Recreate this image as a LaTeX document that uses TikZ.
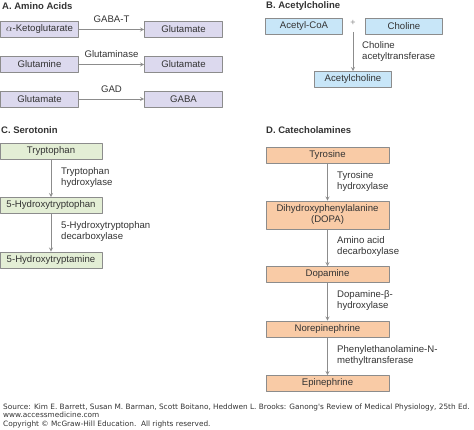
\documentclass[tikz,border=0pt]{standalone}
\usepackage{fontspec}
\setmainfont{Liberation Sans}
\newfontfamily\notefont{DejaVu Sans}
\definecolor{aafill}{HTML}{DCD9EE}
\definecolor{achfill}{HTML}{C8E6F8}
\definecolor{serfill}{HTML}{E3EED5}
\definecolor{catfill}{HTML}{F9CBA6}
\definecolor{edge}{HTML}{8C8C8C}
\definecolor{ink}{HTML}{333333}
\tikzset{
  box/.style={draw=edge,line width=0.8pt,text=ink,inner sep=0pt,minimum height=16pt},
  aabox/.style={box,fill=aafill,minimum width=78pt},
  achbox/.style={box,fill=achfill,minimum width=77pt},
  serbox/.style={box,fill=serfill,minimum width=102pt},
  catbox/.style={box,fill=catfill,minimum width=123pt},
  enz/.style={anchor=west,inner sep=0pt,align=left,text=ink},
  hdr/.style={anchor=west,inner sep=0pt,font=\fontsize{9.5}{11}\selectfont\bfseries,text=ink},
  step arrow/.style={->,draw=edge,line width=0.8pt}
}
\begin{document}
\begin{tikzpicture}[x=1pt,y=-1pt,>=stealth,line join=round,font=\fontsize{9.6}{11}\selectfont]
	\useasboundingbox (0,0) rectangle (474,430);
	% A. Amino acids
	\node[hdr] (ttlA) at (2,6) {A. Amino Acids};
	\node[aabox] (kg) at (39.5,29.5) {$\alpha$-Ketoglutarate};
	\node[aabox] (glua) at (183.5,29.5) {Glutamate};
	\node[aabox] (gln) at (39.5,64.5) {Glutamine};
	\node[aabox] (glub) at (183.5,64.5) {Glutamate};
	\node[aabox] (gluc) at (39.5,99) {Glutamate};
	\node[aabox] (gaba) at (183.5,99) {GABA};
	\draw[step arrow] (kg) -- (glua) node[midway,above=3pt,text=ink] {GABA-T};
	\draw[step arrow] (gln) -- (glub) node[midway,above=3pt,text=ink] {Glutaminase};
	\draw[step arrow] (gluc) -- (gaba) node[midway,above=3pt,text=ink] {GAD};
	% B. Acetylcholine
	\node[hdr] (ttlB) at (266,6) {B. Acetylcholine};
	\node[achbox] (acoa) at (304,26) {Acetyl-CoA};
	\node[achbox] (chol) at (404,26) {Choline};
	\node[inner sep=0pt,text=edge,font=\fontsize{9}{10}\selectfont] (plus) at (353,23) {+};
	\coordinate (plusend) at (353,32);
	\node[achbox] (ach) at (353,79.5) {Acetylcholine};
	\draw[step arrow] (plusend) -- (ach);
	\node[enz] (chat) at (362,51.5) {Choline\\acetyltransferase};
	% C. Serotonin
	\node[hdr] (ttlC) at (1,130) {C. Serotonin};
	\node[serbox] (trp) at (51,151) {Tryptophan};
	\node[serbox] (htp) at (51,205.5) {5-Hydroxytryptophan};
	\node[serbox] (sht) at (51,260) {5-Hydroxytryptamine};
	\draw[step arrow] (trp) -- (htp);
	\draw[step arrow] (htp) -- (sht);
	\node[enz] (tph) at (61,177.5) {Tryptophan\\hydroxylase};
	\node[enz] (aadc1) at (61,232) {5-Hydroxytryptophan\\decarboxylase};
	% D. Catecholamines
	\node[hdr] (ttlD) at (266,130) {D. Catecholamines};
	\node[catbox] (tyr) at (327.5,155.5) {Tyrosine};
	\node[catbox,minimum height=28pt,align=center] (dopa) at (327.5,215) {Dihydroxyphenylalanine\\(DOPA)};
	\node[catbox] (da) at (327.5,274.5) {Dopamine};
	\node[catbox] (ne) at (327.5,329) {Norepinephrine};
	\node[catbox] (epi) at (327.5,383.5) {Epinephrine};
	\draw[step arrow] (tyr) -- (dopa);
	\draw[step arrow] (dopa) -- (da);
	\draw[step arrow] (da) -- (ne);
	\draw[step arrow] (ne) -- (epi);
	\node[enz] (th) at (337,182) {Tyrosine\\hydroxylase};
	\node[enz] (aadc2) at (337,247) {Amino acid\\decarboxylase};
	\node[enz] (dbh) at (337,301) {Dopamine-β-\\hydroxylase};
	\node[enz] (pnmt) at (337,356) {Phenylethanolamine-N-\\methyltransferase};
	% source note
	\node[anchor=north west,inner sep=0pt,align=left,text=ink,font=\notefont\fontsize{7.35}{8.5}\selectfont] (src) at (3,403.5)
		{Source: Kim E. Barrett, Susan M. Barman, Scott Boitano, Heddwen L. Brooks: Ganong's Review of Medical Physiology, 25th Ed.\\
		www.accessmedicine.com\\
		Copyright © McGraw-Hill Education.\ \ All rights reserved.};
\end{tikzpicture}
\end{document}
